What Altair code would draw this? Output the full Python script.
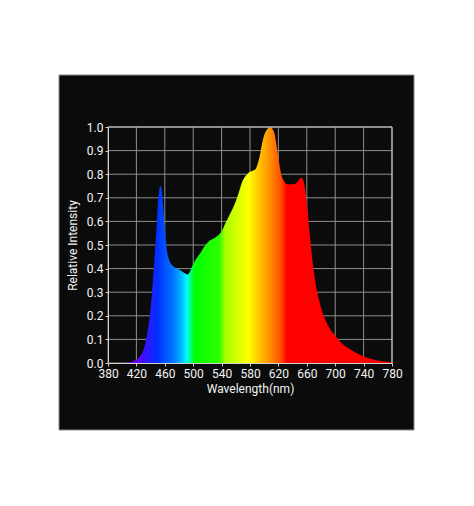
import altair as alt
import pandas as pd

# Spectrum (wavelength nm, relative intensity)
wavelength = [380, 400, 410, 415, 420, 425, 430, 433, 436, 439, 442, 445, 448, 450, 452, 454,
              456, 458, 460, 462, 464, 467, 470, 474, 478, 482, 486, 490, 492, 495, 498, 501,
              505, 510, 515, 520, 525, 530, 535, 540, 545, 550, 555, 560, 564, 568, 572, 576,
              580, 584, 588, 591, 594, 597, 600, 603, 606, 609, 612, 615, 618, 621, 624, 627,
              630, 634, 638, 642, 646, 649, 652, 655, 658, 661, 664, 667, 670, 673, 677, 682,
              688, 695, 702, 710, 720, 730, 740, 750, 760, 770, 780]
intensity = [0.0, 0.0, 0.002, 0.006, 0.014, 0.028, 0.055, 0.09, 0.14, 0.2, 0.3, 0.42, 0.56, 0.66, 0.73, 0.751,
             0.72, 0.65, 0.57, 0.5, 0.46, 0.43, 0.415, 0.405, 0.4, 0.392, 0.385, 0.377, 0.375, 0.385, 0.405, 0.425,
             0.445, 0.465, 0.49, 0.51, 0.522, 0.53, 0.54, 0.558, 0.59, 0.62, 0.65, 0.685, 0.72, 0.76, 0.785, 0.8,
             0.81, 0.815, 0.822, 0.845, 0.88, 0.93, 0.965, 0.985, 0.996, 1.0, 0.99, 0.965, 0.91, 0.85, 0.8, 0.775,
             0.762, 0.757, 0.757, 0.758, 0.765, 0.777, 0.785, 0.775, 0.73, 0.65, 0.55, 0.46, 0.385, 0.325, 0.27, 0.215,
             0.17, 0.135, 0.108, 0.082, 0.06, 0.042, 0.028, 0.018, 0.011, 0.006, 0.003]

x_ticks = [380, 420, 460, 500, 540, 580, 620, 660, 700, 740, 780]
y_ticks = [0.0, 0.1, 0.2, 0.3, 0.4, 0.5, 0.6, 0.7, 0.8, 0.9, 1.0]

# gradient colours by wavelength
stop_wl = [380, 420, 432, 450, 470, 484, 491, 502, 537, 545, 578, 592, 608, 624, 632, 780]
stop_col = ["#7a00ff", "#6a00ff", "#3a10ff", "#0030ff", "#0070ff", "#00b8ff", "#00ffff", "#00ff00",
            "#30ff00", "#a8ff00", "#ffff00", "#ffc800", "#ff9000", "#ff4a00", "#ff0000", "#ff0000"]

spec = pd.DataFrame({"wl": wavelength, "ri": intensity})
xs = alt.Scale(domain=[380, 780], nice=False, zero=False)
ys = alt.Scale(domain=[0, 1], nice=False, zero=True)

x_axis = alt.Axis(values=x_ticks, title="Wavelength(nm)", grid=False, zindex=1,
                  labelFlush=False, labelPadding=2, tickSize=3, titlePadding=4)
y_axis = alt.Axis(values=y_ticks, format=".1f", title="Relative Intensity", grid=False, zindex=1,
                  labelFlush=False, labelPadding=2, tickSize=3, titlePadding=7)

bg = alt.Chart(pd.DataFrame({"a": [0]})).mark_rect(
    color="#0b0b0b", stroke="#8a8a8a", strokeWidth=1
).encode(x=alt.value(-49), x2=alt.value(306), y=alt.value(-52), y2=alt.value(303))

vgrid = alt.Chart(pd.DataFrame({"wl": x_ticks})).mark_rule(
    color="#8e8e8e", strokeWidth=1
).encode(x=alt.X("wl:Q", scale=xs, axis=x_axis))

hgrid = alt.Chart(pd.DataFrame({"ri": y_ticks})).mark_rule(
    color="#8e8e8e", strokeWidth=1
).encode(y=alt.Y("ri:Q", scale=ys, axis=y_axis))

grad = alt.Gradient(
    gradient="linear",
    stops=[alt.GradientStop(offset=(w - 380) / 400, color=c) for w, c in zip(stop_wl, stop_col)],
    x1=0, x2=1, y1=0, y2=0,
)

area = alt.Chart(spec).mark_area(color=grad, interpolate="monotone").encode(
    x=alt.X("wl:Q", scale=xs, axis=x_axis),
    y=alt.Y("ri:Q", scale=ys, axis=y_axis),
)

frame_top = alt.Chart(pd.DataFrame({"ri": [1.0]})).mark_rule(color="#d0d0d0", strokeWidth=1).encode(
    y=alt.Y("ri:Q", scale=ys, axis=y_axis))
frame_right = alt.Chart(pd.DataFrame({"wl": [780]})).mark_rule(color="#d0d0d0", strokeWidth=1).encode(
    x=alt.X("wl:Q", scale=xs, axis=x_axis))

chart = alt.layer(bg, vgrid, hgrid, area, frame_top, frame_right).properties(
    width=284, height=236,
    padding={"left": 100, "top": 119, "right": 74, "bottom": 135},
    autosize=alt.AutoSizeParams(type="none"),
    background="white",
).configure_view(stroke=None).configure_axis(
    labelFont="Roboto", titleFont="Roboto", labelFontSize=12, titleFontSize=12,
    labelColor="#f4f4f4", titleColor="#f4f4f4", domainColor="#d0d0d0", tickColor="#d0d0d0",
    titleFontWeight="normal", domainWidth=1, tickWidth=1,
)

chart.save("out.html", embed_options={"renderer": "svg", "actions": False})
